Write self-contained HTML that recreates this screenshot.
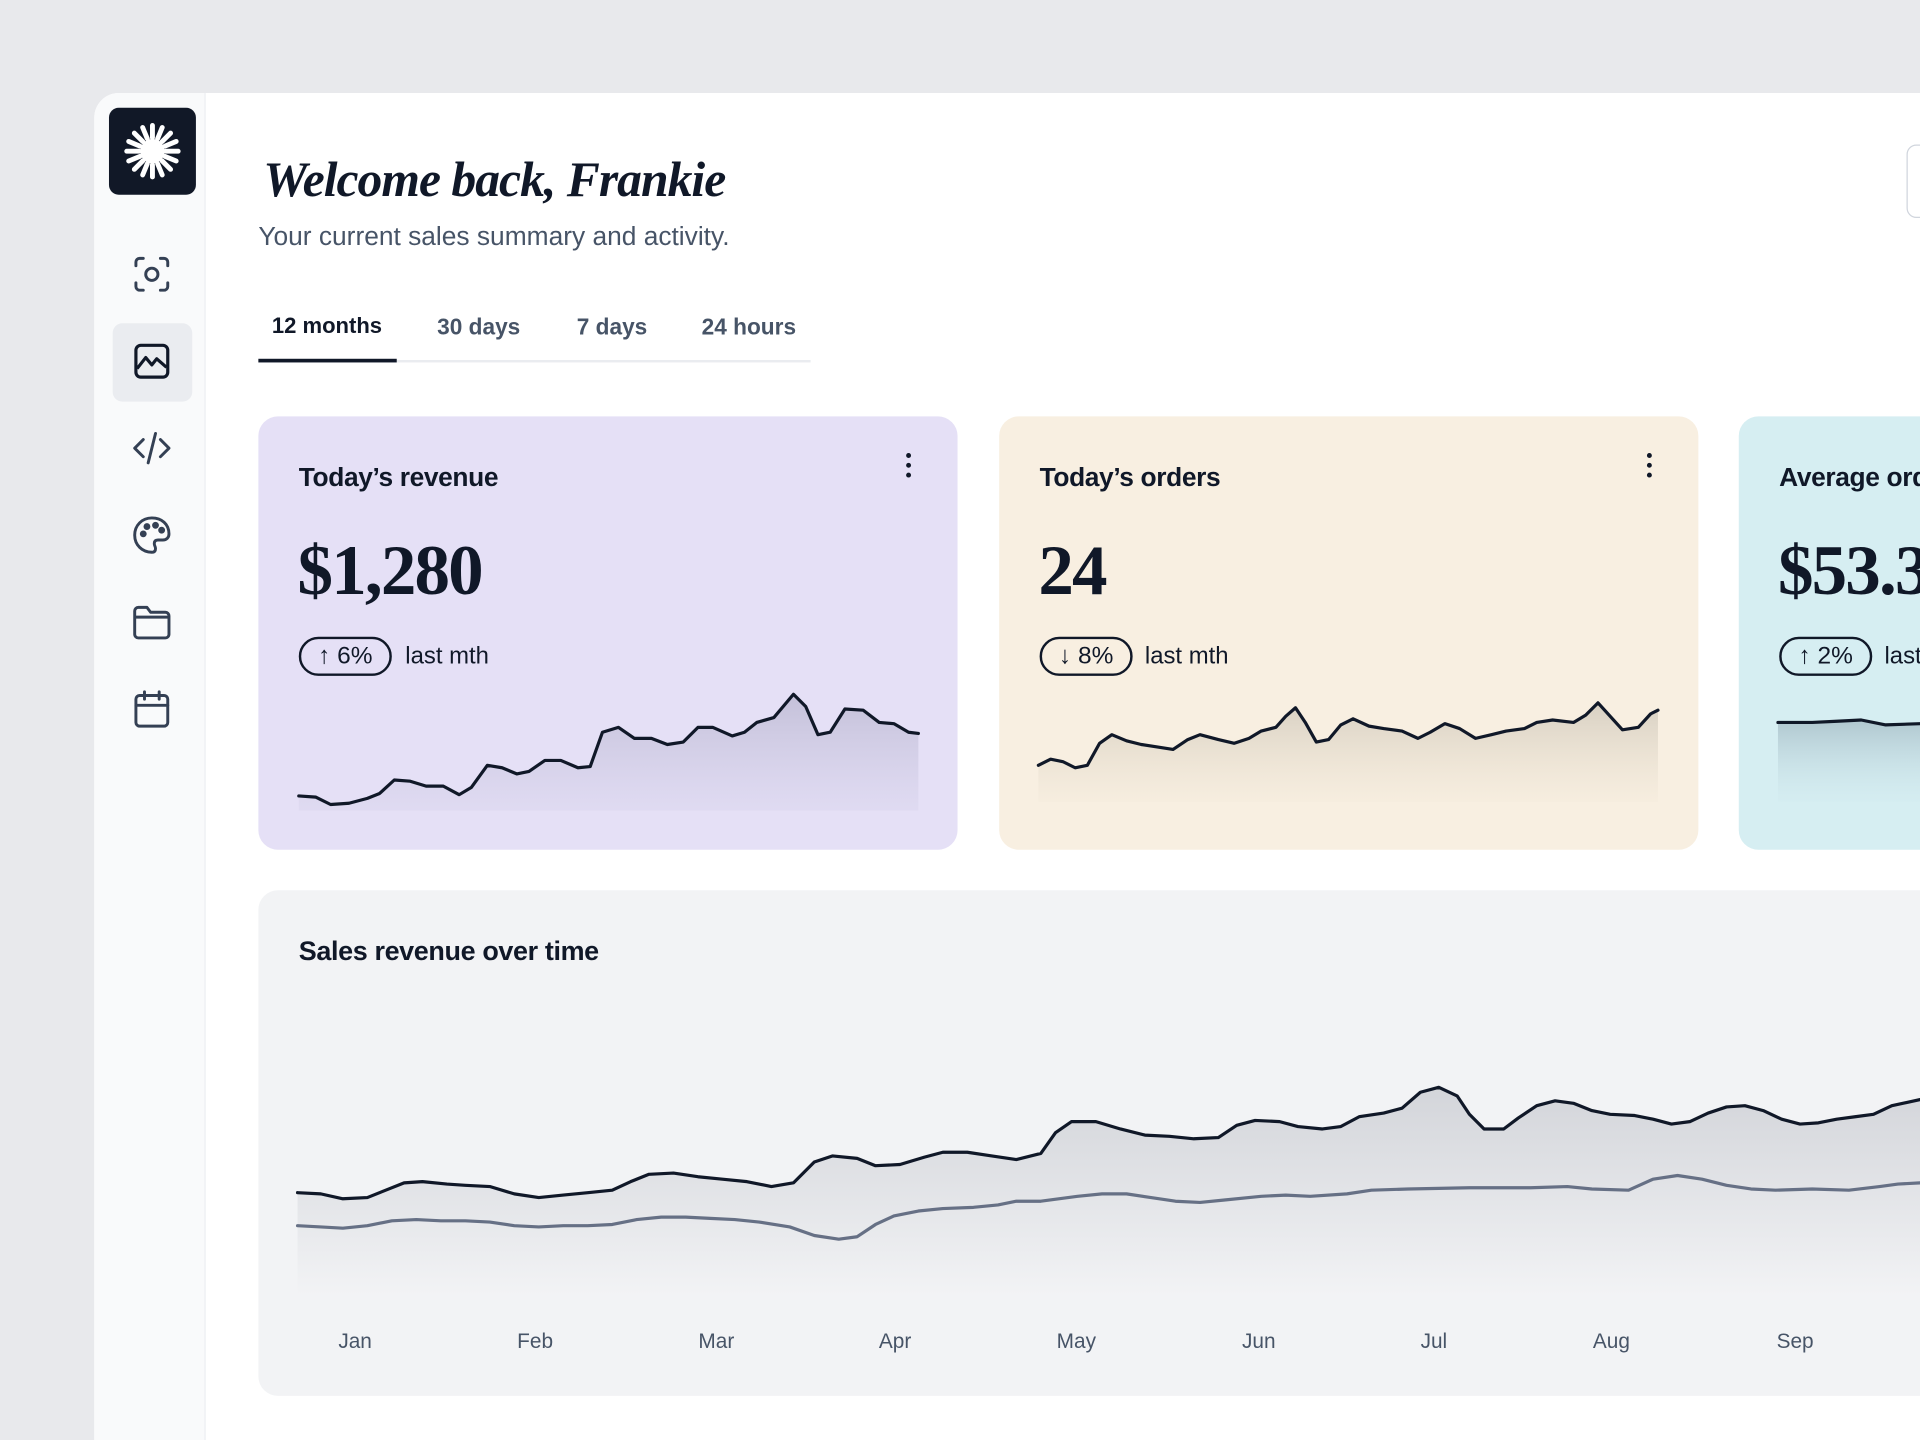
<!DOCTYPE html>
<html><head><meta charset="utf-8"><style>
*{margin:0;padding:0;box-sizing:border-box}
html,body{width:1920px;height:1440px;overflow:hidden;background:#e8e9ec}
#w{position:absolute;left:0;top:0;width:1568px;height:1176px;overflow:hidden;transform:scale(1.224490);transform-origin:0 0;font-family:"Liberation Sans",sans-serif;color:#101828}
.abs{position:absolute}
.panel{left:77px;top:76px;width:1500px;height:1110px;background:#fff;border-radius:20px 0 0 0}
.side{left:77px;top:76px;width:91px;height:1110px;background:#f9fafb;border-right:1px solid #eaecf0;border-radius:20px 0 0 0}
.logo{left:89px;top:88px;width:71px;height:71px;background:#111827;border-radius:8px}
.ico{position:absolute;left:106px;width:36px;height:36px}
.card{position:absolute;top:340px;height:354px;width:571px;border-radius:16px;overflow:hidden}
.ct{position:absolute;left:33px;top:38px;font-size:21.5px;font-weight:bold;letter-spacing:-0.3px}
.cv{position:absolute;left:32px;top:92px;font-family:"Liberation Serif",serif;font-size:58px;font-weight:bold;letter-spacing:-1.5px}
.badge{position:absolute;left:33px;top:180px;width:76px;height:32px;border:2px solid #101828;border-radius:16px;font-size:20px;padding-top:3px;text-align:center;white-space:nowrap}
.lm{position:absolute;top:185px;font-size:19.5px}
.dots{position:absolute;right:38px;top:30px;width:4px}
.dots i{display:block;width:4px;height:4px;background:#101828;border-radius:2px;margin-bottom:4px}
.mo{position:absolute;top:1086px;font-size:17px;color:#475467;transform:translateX(-50%)}
</style></head><body><div id="w">
<div class="abs panel"></div>
<div class="abs side"></div>
<div class="abs logo"><svg width="71" height="71" viewBox="0 0 71 71"><g stroke="#fff" stroke-width="4" stroke-linecap="round"><g transform="translate(35.5,35.5)">
<line x1="0" y1="-11" x2="0" y2="-21"/><line x1="0" y1="11" x2="0" y2="21"/><line x1="-11" y1="0" x2="-21" y2="0"/><line x1="11" y1="0" x2="21" y2="0"/>
<line x1="7.8" y1="-7.8" x2="14.8" y2="-14.8"/><line x1="-7.8" y1="7.8" x2="-14.8" y2="14.8"/><line x1="7.8" y1="7.8" x2="14.8" y2="14.8"/><line x1="-7.8" y1="-7.8" x2="-14.8" y2="-14.8"/>
<line x1="4.2" y1="-10.2" x2="8" y2="-19.4"/><line x1="-4.2" y1="10.2" x2="-8" y2="19.4"/><line x1="10.2" y1="4.2" x2="19.4" y2="8"/><line x1="-10.2" y1="-4.2" x2="-19.4" y2="-8"/>
<line x1="-4.2" y1="-10.2" x2="-8" y2="-19.4"/><line x1="4.2" y1="10.2" x2="8" y2="19.4"/><line x1="10.2" y1="-4.2" x2="19.4" y2="-8"/><line x1="-10.2" y1="4.2" x2="-19.4" y2="8"/></g></g><circle cx="35.5" cy="35.5" r="10" fill="#fff"/></svg></div>
<div class="abs" style="left:92px;top:264px;width:65px;height:64px;background:#eaecf0;border-radius:8px"></div>
<svg class="ico" style="top:206px" viewBox="0 0 36 36" fill="none" stroke="#344054" stroke-width="2.4" stroke-linecap="round"><path d="M5 11V8a3 3 0 0 1 3-3h3M25 5h3a3 3 0 0 1 3 3v3M31 25v3a3 3 0 0 1-3 3h-3M11 31H8a3 3 0 0 1-3-3v-3"/><circle cx="18" cy="18" r="5"/></svg>
<svg class="ico" style="top:277px" viewBox="0 0 36 36" fill="none" stroke="#101828" stroke-width="2.6" stroke-linejoin="round"><rect x="5" y="5" width="26" height="26" rx="4"/><path d="M6 24l7-9 5 6 4-5 8 7"/></svg>
<svg class="ico" style="top:348px" viewBox="0 0 36 36" fill="none" stroke="#344054" stroke-width="2.4" stroke-linecap="round" stroke-linejoin="round"><path d="M11 11l-7 7 7 7M25 11l7 7-7 7M21 6l-6 24"/></svg>
<svg class="ico" style="top:419px" viewBox="0 0 36 36" fill="none" stroke="#344054" stroke-width="2.4"><path d="M18 4C10 4 4 10 4 18s6 14 14 14c2 0 3-1 3-3 0-2-1-2-1-4s1-3 3-3h4c3 0 5-2 5-5C32 9 26 4 18 4z"/><circle cx="11" cy="17" r="1.6" fill="#344054"/><circle cx="14" cy="11" r="1.6" fill="#344054"/><circle cx="21" cy="10" r="1.6" fill="#344054"/><circle cx="26" cy="14" r="1.6" fill="#344054"/></svg>
<svg class="ico" style="top:490px" viewBox="0 0 36 36" fill="none" stroke="#344054" stroke-width="2.4" stroke-linejoin="round"><path d="M4 9a3 3 0 0 1 3-3h7l3 4h12a3 3 0 0 1 3 3v15a3 3 0 0 1-3 3H7a3 3 0 0 1-3-3z M4 14h28"/></svg>
<svg class="ico" style="top:561px" viewBox="0 0 36 36" fill="none" stroke="#344054" stroke-width="2.4" stroke-linecap="round"><rect x="5" y="7" width="26" height="25" rx="3"/><path d="M5 15h26M12 4v6M24 4v6"/></svg>

<div class="abs" style="left:215px;top:123px;font-family:'Liberation Serif',serif;font-style:italic;font-weight:bold;font-size:40.5px;letter-spacing:-0.8px;color:#101828">Welcome back, Frankie</div>
<div class="abs" style="left:211px;top:181px;font-size:21.5px;color:#475467">Your current sales summary and activity.</div>
<div class="abs" style="left:1557px;top:118px;width:30px;height:60px;border:1.5px solid #d0d5dd;border-radius:8px"></div>

<div class="abs" style="left:211px;top:294px;width:451px;height:2px;background:#eaecf0"></div>
<div class="abs" style="left:211px;top:293px;width:113px;height:3px;background:#101828"></div>
<div class="abs" style="left:222px;top:256px;font-size:18px;font-weight:bold;color:#101828">12 months</div>
<div class="abs" style="left:357px;top:256px;font-size:18.5px;font-weight:bold;color:#475467">30 days</div>
<div class="abs" style="left:471px;top:256px;font-size:18.5px;font-weight:bold;color:#475467">7 days</div>
<div class="abs" style="left:573px;top:256px;font-size:18.5px;font-weight:bold;color:#475467">24 hours</div>

<div class="card" style="left:211px;background:#e5e0f6">
<div class="ct">Today’s revenue</div><div class="dots"><i></i><i></i><i></i></div>
<div class="cv">$1,280</div>
<div class="badge">↑ 6%</div><div class="lm" style="left:120px">last mth</div>
</div>
<div class="card" style="left:816px;background:#f8efe1">
<div class="ct">Today’s orders</div><div class="dots"><i></i><i></i><i></i></div>
<div class="cv">24</div>
<div class="badge">↓ 8%</div><div class="lm" style="left:119px">last mth</div>
</div>
<div class="card" style="left:1420px;background:#d6eef2">
<div class="ct">Average order value</div>
<div class="cv">$53.30</div>
<div class="badge">↑ 2%</div><div class="lm" style="left:119px">last mth</div>
</div>

<div class="abs" style="left:211px;top:727px;width:1400px;height:413px;background:#f2f3f5;border-radius:16px"></div>
<div class="abs" style="left:244px;top:764px;font-size:22px;font-weight:bold;letter-spacing:-0.3px">Sales revenue over time</div>

<svg class="abs" style="left:0;top:0" width="1568" height="1176">
<defs>
<linearGradient id="g1" x1="0" y1="0" x2="0" y2="1"><stop offset="0" stop-color="#b9b6cf" stop-opacity=".75"/><stop offset="1" stop-color="#c9c5e0" stop-opacity=".2"/></linearGradient>
<linearGradient id="g2" x1="0" y1="0" x2="0" y2="1"><stop offset="0" stop-color="#cfc8bb" stop-opacity=".8"/><stop offset="1" stop-color="#e6dccb" stop-opacity=".1"/></linearGradient>
<linearGradient id="g3" x1="0" y1="0" x2="0" y2="1"><stop offset="0" stop-color="#a9c0c9" stop-opacity=".85"/><stop offset="1" stop-color="#c9e2e8" stop-opacity=".1"/></linearGradient>
<linearGradient id="g4" x1="0" y1="0" x2="0" y2="1"><stop offset="0" stop-color="#d3d5da"/><stop offset="1" stop-color="#f2f3f5"/></linearGradient>
</defs>
<g stroke-linejoin="round" stroke-linecap="round">
<polygon fill="url(#g1)" points="244,650 258,651 270,657 285,656 300,652 310,648 322,637 335,638 348,642 362,642 375,649 385,643 398,625 410,627 422,632 432,630 445,621 458,621 472,627 482,626 492,598 505,594 518,603 532,603 545,608 558,606 570,594 582,594 598,601 608,598 618,590 632,586 648,567 658,577 668,600 678,598 690,579 705,580 718,590 730,591 742,598 750,599 750,662 244,662"/>
<polyline fill="none" stroke="#101828" stroke-width="2.6" points="244,650 258,651 270,657 285,656 300,652 310,648 322,637 335,638 348,642 362,642 375,649 385,643 398,625 410,627 422,632 432,630 445,621 458,621 472,627 482,626 492,598 505,594 518,603 532,603 545,608 558,606 570,594 582,594 598,601 608,598 618,590 632,586 648,567 658,577 668,600 678,598 690,579 705,580 718,590 730,591 742,598 750,599"/>
<polygon fill="url(#g2)" points="848,625 858,620 868,622 878,627 888,625 898,607 908,600 920,605 932,608 945,610 958,612 970,604 980,600 995,604 1008,607 1020,603 1030,597 1042,594 1050,585 1058,578 1066,590 1075,606 1085,604 1095,592 1105,587 1118,593 1130,595 1145,597 1158,603 1168,598 1180,591 1192,595 1205,603 1218,600 1230,597 1245,595 1255,590 1268,588 1285,590 1295,584 1305,574 1315,585 1325,596 1338,594 1348,583 1354,580 1354,655 848,655"/>
<polyline fill="none" stroke="#101828" stroke-width="2.6" points="848,625 858,620 868,622 878,627 888,625 898,607 908,600 920,605 932,608 945,610 958,612 970,604 980,600 995,604 1008,607 1020,603 1030,597 1042,594 1050,585 1058,578 1066,590 1075,606 1085,604 1095,592 1105,587 1118,593 1130,595 1145,597 1158,603 1168,598 1180,591 1192,595 1205,603 1218,600 1230,597 1245,595 1255,590 1268,588 1285,590 1295,584 1305,574 1315,585 1325,596 1338,594 1348,583 1354,580"/>
<polygon fill="url(#g3)" points="1452,590 1480,590 1500,589 1520,588 1540,592 1568,591 1568,655 1452,655"/>
<polyline fill="none" stroke="#101828" stroke-width="2.6" points="1452,590 1480,590 1500,589 1520,588 1540,592 1568,591"/>
<polygon fill="url(#g4)" points="243,974 262,975 280,979 300,978 315,972 330,966 345,965 365,967 380,968 400,969 420,975 440,978 460,976 480,974 500,972 515,965 530,959 550,958 570,961 590,963 610,965 630,969 648,966 665,949 680,944 700,946 715,952 735,951 755,945 770,941 790,941 810,944 830,947 850,942 862,925 875,916 895,916 915,922 935,927 955,928 975,930 995,929 1010,919 1025,915 1045,916 1060,920 1080,922 1095,920 1110,912 1130,909 1145,905 1160,892 1175,888 1190,895 1200,910 1212,922 1228,922 1240,913 1255,903 1270,899 1285,901 1300,907 1315,910 1335,911 1350,914 1365,918 1380,916 1395,909 1410,904 1425,903 1440,907 1455,914 1470,918 1485,917 1500,914 1515,912 1530,910 1545,903 1568,898 1568,1058 243,1058"/>
<polyline fill="none" stroke="#101828" stroke-width="2.6" points="243,974 262,975 280,979 300,978 315,972 330,966 345,965 365,967 380,968 400,969 420,975 440,978 460,976 480,974 500,972 515,965 530,959 550,958 570,961 590,963 610,965 630,969 648,966 665,949 680,944 700,946 715,952 735,951 755,945 770,941 790,941 810,944 830,947 850,942 862,925 875,916 895,916 915,922 935,927 955,928 975,930 995,929 1010,919 1025,915 1045,916 1060,920 1080,922 1095,920 1110,912 1130,909 1145,905 1160,892 1175,888 1190,895 1200,910 1212,922 1228,922 1240,913 1255,903 1270,899 1285,901 1300,907 1315,910 1335,911 1350,914 1365,918 1380,916 1395,909 1410,904 1425,903 1440,907 1455,914 1470,918 1485,917 1500,914 1515,912 1530,910 1545,903 1568,898"/>
<polyline fill="none" stroke="#667085" stroke-width="2.6" points="243,1001 262,1002 280,1003 300,1001 320,997 340,996 360,997 380,997 400,998 420,1001 440,1002 460,1001 480,1001 500,1000 520,996 540,994 560,994 580,995 600,996 620,998 645,1002 665,1009 685,1012 700,1010 715,1000 730,993 750,989 770,987 795,986 815,984 830,981 850,981 880,977 900,975 920,975 940,978 960,981 980,982 1000,980 1030,977 1050,976 1070,977 1100,975 1120,972 1150,971 1200,970 1250,970 1280,969 1300,971 1330,972 1350,963 1370,960 1390,963 1410,968 1430,971 1450,972 1480,971 1510,972 1535,969 1550,967 1568,966"/>
</g></svg>
<div class="mo" style="left:290px">Jan</div><div class="mo" style="left:437px">Feb</div><div class="mo" style="left:585px">Mar</div><div class="mo" style="left:731px">Apr</div><div class="mo" style="left:879px">May</div><div class="mo" style="left:1028px">Jun</div><div class="mo" style="left:1171px">Jul</div><div class="mo" style="left:1316px">Aug</div><div class="mo" style="left:1466px">Sep</div>
</div></body></html>
